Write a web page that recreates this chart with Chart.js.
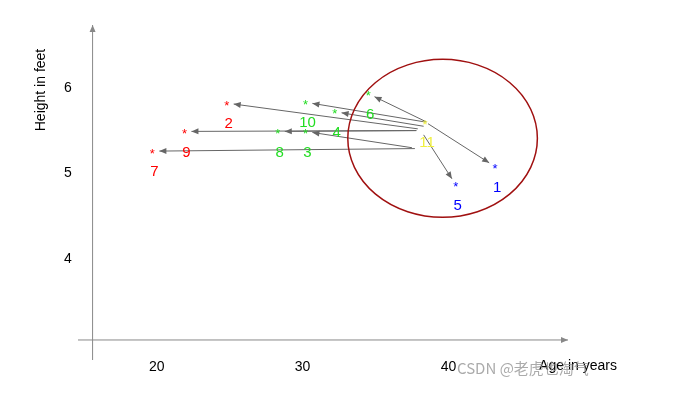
<!DOCTYPE html><html><head><script src="https://cdn.jsdelivr.net/npm/chart.js@4"></script>
<style>body{margin:0;background:#fff}</style></head><body>
<div style="width:697px;height:404px"><canvas id="c"></canvas></div>
<script>
const labels=['1','2','3','4','5','6','7','8','9','10','11'];
const ages=[43.2,24.8,30.2,32.2,40.5,34.5,19.7,28.3,21.9,30.2,38.4];
const heights=[5.08,5.82,5.49,5.72,4.87,5.93,5.26,5.49,5.49,5.83,5.6];
const colors=['blue','red','#22dd22','#22dd22','blue','#22dd22','red','#22dd22','red','#22dd22','#f0f040'];
const xTicks=[20,30,40], yTicks=[4,5,6];
const arrowStart=[[38.6,5.58],[37.9,5.52],[37.5,5.3],[38.3,5.55],[38.3,5.45],[38.5,5.6],[37.7,5.29],[37.8,5.5],[37.8,5.5],[38.4,5.6],null];
const ellipse={cx:39.6,cy:5.41,rx:6.5,ry:0.92};
const deco={id:'deco',afterDatasetsDraw(ch){
 const c=ch.ctx,x=ch.scales.x,y=ch.scales.y;const X=v=>x.getPixelForValue(v),Y=v=>y.getPixelForValue(v);
 c.save();
 function arrow(x1,y1,x2,y2,col){c.strokeStyle=col;c.fillStyle=col;c.lineWidth=1;c.beginPath();c.moveTo(x1,y1);c.lineTo(x2,y2);c.stroke();
  const a=Math.atan2(y2-y1,x2-x1),L=7,w=3;c.beginPath();c.moveTo(x2,y2);c.lineTo(x2-L*Math.cos(a)+w*Math.sin(a),y2-L*Math.sin(a)-w*Math.cos(a));c.lineTo(x2-L*Math.cos(a)-w*Math.sin(a),y2-L*Math.sin(a)+w*Math.cos(a));c.closePath();c.fill();}
 arrow(X(15.6),ch.chartArea.bottom+2,X(15.6),ch.chartArea.top,'#888');
 arrow(ch.chartArea.left,Y(3.06),ch.chartArea.right,Y(3.06),'#888');
 c.font='14px "Liberation Sans", Arial';c.fillStyle='#000';c.textAlign='center';c.textBaseline='middle';
 xTicks.forEach(t=>c.fillText(String(t),X(t),367));
 yTicks.forEach(t=>c.fillText(String(t),68,Y(t)));
 c.fillText('Age in years',578,366);
 c.save();c.translate(41,90);c.rotate(-Math.PI/2);c.fillText('Height in feet',0,0);c.restore();
 ages.forEach((a,i)=>{const s=arrowStart[i];if(!s)return;
  const px=X(a),py=Y(heights[i]),sx=X(s[0]),sy=Y(s[1]);const d=Math.hypot(px-sx,py-sy);
  arrow(sx,sy,px+(sx-px)*7/d,py+(sy-py)*7/d,'#666');});
 ages.forEach((a,i)=>{c.fillStyle=colors[i];c.font='15px "Liberation Sans", Arial';c.fillText(labels[i],X(a)+2,Y(heights[i])+21);
  c.font='13px "Liberation Sans", Arial';c.fillText('*',X(a),Y(heights[i])+3);});
 c.strokeStyle='#a01010';c.lineWidth=1.5;c.beginPath();
 c.ellipse(X(ellipse.cx),Y(ellipse.cy),Math.abs(X(ellipse.cx+ellipse.rx)-X(ellipse.cx)),Math.abs(Y(ellipse.cy+ellipse.ry)-Y(ellipse.cy)),0,0,Math.PI*2);c.stroke();
 c.fillStyle='rgba(150,150,150,0.8)';c.font='15px "Noto Sans CJK SC"';c.textAlign='left';c.fillText('CSDN @老虎也淘气',457,368);
 c.restore();}};
new Chart(document.getElementById('c'),{type:'scatter',
 data:{datasets:[{data:ages.map((a,i)=>({x:a,y:heights[i]})),pointRadius:0}]},
 options:{responsive:true,maintainAspectRatio:false,animation:false,events:[],
  layout:{padding:{left:78,right:129,top:25,bottom:46}},
  plugins:{legend:{display:false},tooltip:{enabled:false}},
  scales:{x:{display:false,min:14.6,max:48.2},y:{display:false,min:2.85,max:6.73}}},
 plugins:[deco]});
</script></body></html>
